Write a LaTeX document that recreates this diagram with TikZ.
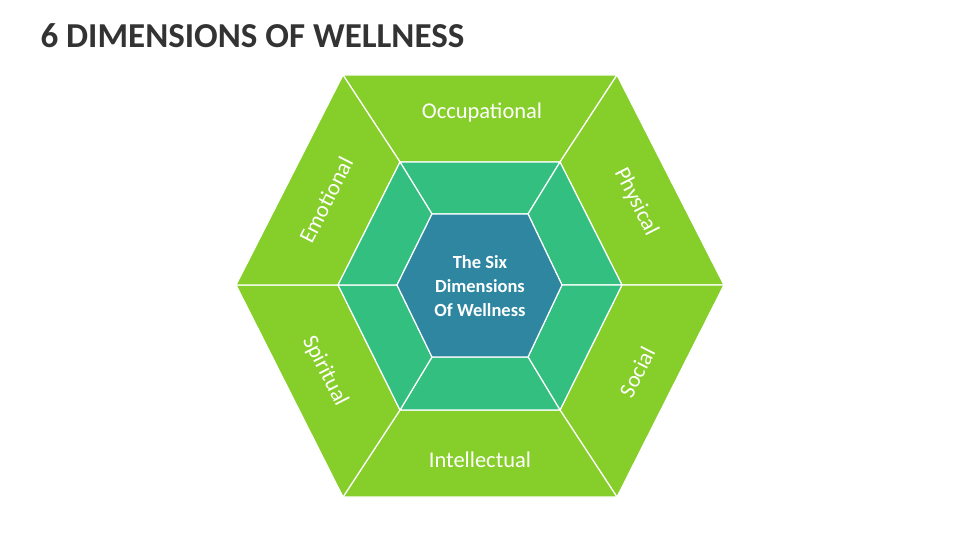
\documentclass[tikz,border=0pt]{standalone}
\usepackage{fontspec}
\setmainfont{Carlito}
\definecolor{og}{HTML}{86CF2A}
\definecolor{mg}{HTML}{33BF80}
\definecolor{ib}{HTML}{2E86A0}
\begin{document}
\begin{tikzpicture}[x=1pt,y=-1pt,
  seg/.style={draw=white,line width=1.2pt,line join=round},
  lbl/.style={text=white,font=\fontsize{22.5}{26}\selectfont}]
\useasboundingbox (0,0) rectangle (960,540);
\coordinate (O1) at (343,75); \coordinate (O2) at (617,75); \coordinate (O3) at (724,285);
\coordinate (O4) at (617,497); \coordinate (O5) at (343,497); \coordinate (O6) at (236,285);
\coordinate (M1) at (400,162); \coordinate (M2) at (560,162); \coordinate (M3) at (622,285);
\coordinate (M4) at (560,410); \coordinate (M5) at (400,410); \coordinate (M6) at (338,285);
\coordinate (I1) at (432,214); \coordinate (I2) at (528,214); \coordinate (I3) at (562,285);
\coordinate (I4) at (528,357); \coordinate (I5) at (432,357); \coordinate (I6) at (397,285);
\foreach \a/\b in {1/2,2/3,3/4,4/5,5/6,6/1}{
  \fill[og,seg] (O\a) -- (O\b) -- (M\b) -- (M\a) -- cycle;
  \fill[mg,seg] (M\a) -- (M\b) -- (I\b) -- (I\a) -- cycle;
}
\fill[ib,draw=white,line width=1.2pt] (I1)--(I2)--(I3)--(I4)--(I5)--(I6)--cycle;
\node[anchor=west,font=\fontsize{35}{40}\selectfont\bfseries,text=black!80] (t) at (37,36) {6 DIMENSIONS OF WELLNESS};
\node[lbl] (oc) at (482,113) {Occupational};
\node[lbl] (in) at (480,460) {Intellectual};
\node[lbl,rotate=63] (em) at (326,200) {Emotional};
\node[lbl,rotate=-63] (ph) at (636,202) {Physical};
\node[lbl,rotate=-63] (sp) at (325,371) {Spiritual};
\node[lbl,rotate=63] (so) at (637,372) {Social};
\node[text=white,font=\fontsize{18.5}{24}\selectfont\bfseries,align=center] (c) at (480,286) {The Six\\Dimensions\\Of Wellness};
\end{tikzpicture}
\end{document}
